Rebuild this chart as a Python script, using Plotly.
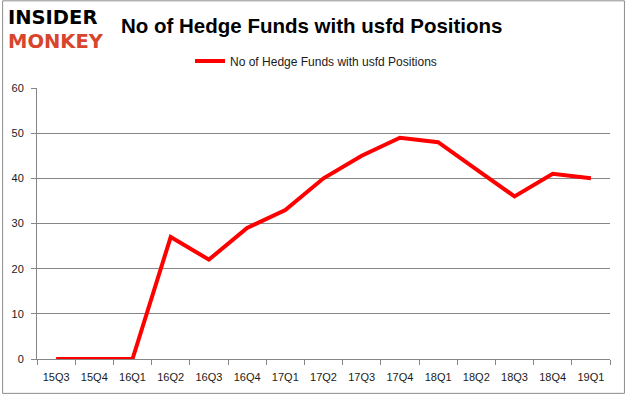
import plotly.graph_objects as go

quarters = ["15Q3","15Q4","16Q1","16Q2","16Q3","16Q4","17Q1","17Q2","17Q3","17Q4","18Q1","18Q2","18Q3","18Q4","19Q1"]
funds = [0,0,0,27,22,29,33,40,45,49,48,42,36,41,40]
series_name = "No of Hedge Funds with usfd Positions"

fig = go.Figure()
fig.add_trace(go.Scatter(x=quarters, y=funds, mode="lines", name=series_name,
                         line=dict(color="#ff0000", width=4)))

grid = "#868686"
L, R, T, B = 35, 15, 88, 35
W, Hh = 625, 395
H_plot = Hh - T - B
W_plot = W - L - R
def px(x): return (x - L) / W_plot
def py(y): return (Hh - B - y) / H_plot

fig.update_layout(
    width=W, height=Hh,
    margin=dict(l=L, r=R, t=T, b=B),
    paper_bgcolor="white", plot_bgcolor="white",
    font=dict(family="Liberation Sans, Arial, sans-serif", size=11, color="#1a1a1a"),
    showlegend=True,
    legend=dict(orientation="h", x=px(315), xanchor="center", y=py(61), yanchor="middle",
                font=dict(size=12), bgcolor="rgba(0,0,0,0)"),
    xaxis=dict(type="category", range=[-0.5, len(quarters) - 0.5], showgrid=False,
               showline=True, linecolor=grid, linewidth=1,
               ticks="outside", tickson="boundaries", ticklen=5, tickcolor=grid,
               ticklabelstandoff=8, tickfont=dict(size=11), fixedrange=True),
    yaxis=dict(range=[0, 60], dtick=10, showgrid=True, gridcolor=grid, gridwidth=1,
               showline=True, linecolor=grid, linewidth=1, ticks="outside", ticklen=5,
               tickcolor=grid, zeroline=False, ticklabelstandoff=5,
               tickfont=dict(size=11), fixedrange=True),
    annotations=[
        dict(text="<b>No of Hedge Funds with usfd Positions</b>", xref="paper", yref="paper",
             x=px(311), y=py(25), xanchor="center", yanchor="middle", showarrow=False,
             font=dict(size=20.5, color="black")),
        dict(text="<b>INSIDER</b>", xref="paper", yref="paper", x=px(4), y=py(17),
             xanchor="left", yanchor="middle", showarrow=False,
             font=dict(size=19.5, color="black", family="DejaVu Sans")),
        dict(text="<b>MONKEY</b>", xref="paper", yref="paper", x=px(4), y=py(41),
             xanchor="left", yanchor="middle", showarrow=False,
             font=dict(size=19.5, color="#d9442c", family="DejaVu Sans")),
    ],
    shapes=[dict(type="rect", xref="paper", yref="paper",
                 x0=px(0.5), y0=py(394.5), x1=px(624.5), y1=py(0.5),
                 line=dict(color="#8c8c8c", width=1))],
)

fig.write_html("out.html", config={"displayModeBar": False},
               post_script="document.body.style.margin='0';")
